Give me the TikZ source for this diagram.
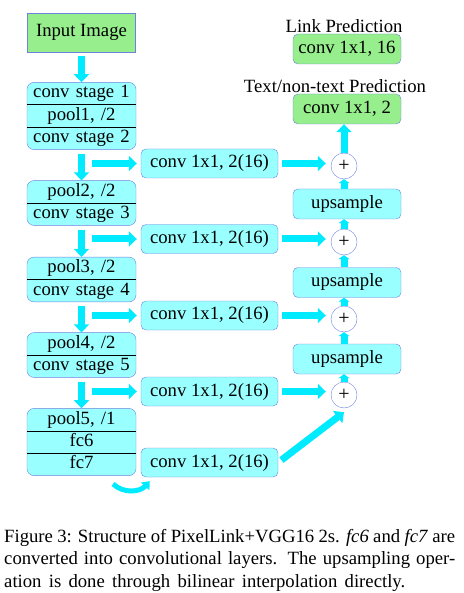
\documentclass[tikz,border=0pt]{standalone}
\usepackage{fontspec}
\setmainfont{Liberation Serif}
\usetikzlibrary{shapes.multipart,arrows.meta}

\definecolor{cellcyan}{RGB}{153,255,255}
\definecolor{flowcyan}{RGB}{0,235,255}
\definecolor{edgeblue}{RGB}{110,130,220}
\definecolor{predgreen}{RGB}{150,238,140}

\newcommand{\netfont}{\fontsize{18.7}{22}\selectfont}
\newcommand{\capfont}{\fontsize{18.7}{22.5}\selectfont}

\tikzset{
	layer/.style={draw=edgeblue, fill=cellcyan, rounded corners=5pt,
		minimum width=108pt, minimum height=30pt, inner sep=0pt, font=\netfont},
	headbox/.style={layer, fill=predgreen},
	stage/.style={rectangle split, rectangle split parts=#1,
		rectangle split draw splits=false, draw=edgeblue, fill=cellcyan,
		rounded corners=7pt, text width=101pt, align=center,
		inner xsep=4pt, inner ysep=0pt, font=\netfont},
	divider/.style={black, line width=0.6pt},
	sum/.style={circle, draw=edgeblue, fill=white, minimum size=26pt,
		inner sep=0pt, font=\fontsize{20}{20}\selectfont},
	flow/.style={draw=flowcyan, line width=7pt,
		-{Triangle[width=15pt,length=8pt]}},
	stub/.style={draw=flowcyan, line width=7pt,
		-{Triangle[width=11pt,length=4pt]}},
}

\begin{document}
\begin{tikzpicture}[x=1pt, y=-1pt]

	\useasboundingbox (0,0) rectangle (463,593);

	% backbone
	\node[headbox, rounded corners=0pt, minimum height=39pt] (img) at (81.5,32.5)
		{Input Image};

	\node[stage=3] (s1) at (81.5,116) {\strut conv stage 1
		\nodepart{two}\strut pool1, /2 \nodepart{three}\strut conv stage 2};
	\node[stage=2] (s2) at (81.5,203) {\strut pool2, /2
		\nodepart{two}\strut conv stage 3};
	\node[stage=2] (s3) at (81.5,279.5) {\strut pool3, /2
		\nodepart{two}\strut conv stage 4};
	\node[stage=2] (s4) at (81.5,355) {\strut pool4, /2
		\nodepart{two}\strut conv stage 5};
	\node[stage=3] (s5) at (81.5,442) {\strut pool5, /1
		\nodepart{two}\strut fc6 \nodepart{three}\strut fc7};

	\draw[divider] (s1.text split west) -- (s1.text split east);
	\draw[divider] (s1.two split west) -- (s1.two split east);
	\draw[divider] (s2.text split west) -- (s2.text split east);
	\draw[divider] (s3.text split west) -- (s3.text split east);
	\draw[divider] (s4.text split west) -- (s4.text split east);
	\draw[divider] (s5.text split west) -- (s5.text split east);
	\draw[divider] (s5.two split west) -- (s5.two split east);

	\draw[flow, shorten <=4pt] (img) -- (s1);
	\draw[flow, shorten <=4pt] (s1) -- (s2);
	\draw[flow, shorten <=4pt] (s2) -- (s3);
	\draw[flow, shorten <=4pt] (s3) -- (s4);
	\draw[flow, shorten <=4pt] (s4) -- (s5);

	% side branches
	\node[layer, minimum width=137pt, minimum height=29pt] (c1) at (209.5,163.5)
		{conv 1x1, 2(16)};
	\node[layer, minimum width=137pt, minimum height=29pt] (c2) at (209.5,239)
		{conv 1x1, 2(16)};
	\node[layer, minimum width=137pt, minimum height=29pt] (c3) at (209.5,315.5)
		{conv 1x1, 2(16)};
	\node[layer, minimum width=137pt, minimum height=29pt] (c4) at (209.5,391.5)
		{conv 1x1, 2(16)};
	\node[layer, minimum width=137pt, minimum height=29pt] (c5) at (209.5,462.5)
		{conv 1x1, 2(16)};

	\coordinate (tap1) at (92,163.5);
	\coordinate (tap2) at (92,239);
	\coordinate (tap3) at (92,315.5);
	\coordinate (tap4) at (92,391.5);
	\coordinate (fcout) at (113,484);

	\draw[flow, shorten >=4pt] (tap1) -- (c1);
	\draw[flow, shorten >=4pt] (tap2) -- (c2);
	\draw[flow, shorten >=4pt] (tap3) -- (c3);
	\draw[flow, shorten >=4pt] (tap4) -- (c4);
	\draw[draw=flowcyan, line width=5pt, -{Triangle[width=11pt,length=7pt]}]
		(fcout) .. controls (124,494) and (140,492) .. ([shift={(9pt,-4pt)}]c5.south west);

	% merging
	\node[sum] (p1) at (344,166) {+};
	\node[sum] (p2) at (344,242) {+};
	\node[sum] (p3) at (344,319) {+};
	\node[sum] (p4) at (344,395) {+};

	\node[layer] (u1) at (347,204) {upsample};
	\node[layer] (u2) at (347,282.5) {upsample};
	\node[layer] (u3) at (347,359) {upsample};

	\draw[flow, shorten <=4pt, shorten >=5pt] (c1.east) -- (c1.east -| p1.west);
	\draw[flow, shorten <=4pt, shorten >=5pt] (c2.east) -- (c2.east -| p2.west);
	\draw[flow, shorten <=4pt, shorten >=5pt] (c3.east) -- (c3.east -| p3.west);
	\draw[flow, shorten <=4pt, shorten >=5pt] (c4.east) -- (c4.east -| p4.west);
	\draw[flow, shorten <=4pt] (c5.east) -- ([yshift=-4pt]p4.south);

	\draw[stub] (p4.north) -- (p4.north |- u3.south);
	\draw[stub] (u3.north -| p4.north) -- (p3.south);
	\draw[stub] (p3.north) -- (p3.north |- u2.south);
	\draw[stub] (u2.north -| p3.north) -- (p2.south);
	\draw[stub] (p2.north) -- (p2.north |- u1.south);
	\draw[stub] (u1.north -| p2.north) -- (p1.south);

	% outputs
	\node[headbox] (link) at (347,49) {conv 1x1, 16};
	\node[headbox] (cls) at (347,109) {conv 1x1, 2};
	\node[font=\netfont] (linklbl) at (344,26) {Link Prediction};
	\node[font=\netfont] (clslbl) at (335,86) {Text/non-text Prediction};

	\draw[flow] (p1.north) -- (p1.north |- cls.south);

	% caption
	\node[anchor=base west, inner sep=0pt, font=\capfont] (cap1) at (4,542)
		{\makebox[451pt][s]{Figure 3: Structure of PixelLink+VGG16 2s.
		\textit{fc6} and \textit{fc7} are}};
	\node[anchor=base west, inner sep=0pt, font=\capfont] (cap2) at (4,564.5)
		{\makebox[451pt][s]{converted into convolutional layers. The
		upsampling oper-}};
	\node[anchor=base west, inner sep=0pt, font=\capfont] (cap3) at (4,587)
		{\makebox[401pt][s]{ation is done through bilinear interpolation
		directly.}};

\end{tikzpicture}
\end{document}
